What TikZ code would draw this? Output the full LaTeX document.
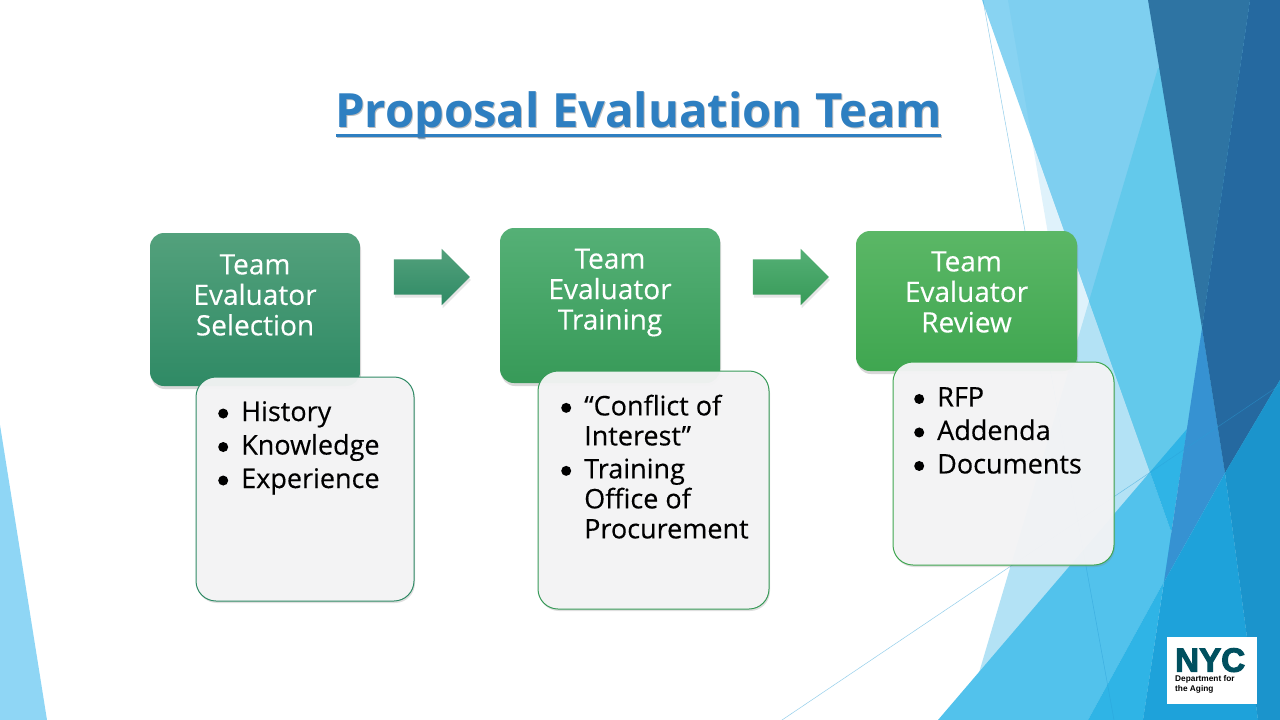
\documentclass[tikz,border=0pt]{standalone}
\usepackage{fontspec}
\setmainfont{Open Sans}
\newfontfamily\bodyfont[FakeBold=0.3]{Open Sans}
\newfontfamily\logofont{Liberation Sans}
\newfontfamily\logoheavy[FakeBold=3,UprightFont=* Bold]{Liberation Sans}
\usetikzlibrary{shadows,shapes.arrows}

\definecolor{titleblue}{HTML}{2E7FC1}
\definecolor{nycteal}{HTML}{00505F}
\definecolor{cardgray}{HTML}{F5F5F6}
\definecolor{sidelight}{HTML}{8FD6F5}
\definecolor{facetpale}{HTML}{DFF2FB}
\definecolor{facetsoft}{HTML}{B3E2F5}
\definecolor{facetsky}{HTML}{88D3F2}
\definecolor{facetskyb}{HTML}{7ECFF0}
\definecolor{facetmid}{HTML}{63C9EB}
\definecolor{facetlow}{HTML}{52C2EC}
\definecolor{facetcyan}{HTML}{2FB4E6}
\definecolor{facetroyal}{HTML}{3692D2}
\definecolor{facetsteel}{HTML}{2E74A3}
\definecolor{facetdark}{HTML}{2569A0}
\definecolor{facetdeep}{HTML}{1EA2DA}
\definecolor{facetdeepb}{HTML}{1B94CC}
\definecolor{hairline}{HTML}{2A9FD8}
\definecolor{greenAtop}{HTML}{53A17C}
\definecolor{greenAbot}{HTML}{2F8A65}
\definecolor{greenBtop}{HTML}{55B076}
\definecolor{greenBbot}{HTML}{379A58}
\definecolor{greenCtop}{HTML}{5BB766}
\definecolor{greenCbot}{HTML}{3FA650}

\tikzset{
	stepbox/.style={rounded corners=14pt,draw=none,inner sep=0pt,
		drop shadow={shadow xshift=1pt,shadow yshift=-3pt,opacity=0.3}},
	steptext/.style={text=white,align=center,inner sep=0pt,font=\bodyfont\fontsize{28}{30.5}\selectfont},
	listbox/.style={rounded corners=20pt,draw=#1,line width=1pt,fill=cardgray,fill opacity=0.95,
		inner sep=0pt,drop shadow={shadow xshift=1pt,shadow yshift=-2pt,opacity=0.25}},
	listtext/.style={anchor=north west,inner sep=0pt,align=left,text=black,
		font=\bodyfont\fontsize{27}{33.5}\selectfont},
	nextarrow/.style={single arrow,draw=none,inner xsep=0pt,inner ysep=17.5pt,minimum width=56pt,minimum height=76pt,
		single arrow head extend=10.5pt,single arrow tip angle=90,
		drop shadow={shadow xshift=1pt,shadow yshift=-3pt,opacity=0.2}},
}
\newcommand{\bul}{\makebox[23pt][l]{\smash{\tikz[baseline=-7.5pt]\fill[black] (0,0) circle (5pt);}}}

\begin{document}
\begin{tikzpicture}[x=1pt,y=-1pt]
	\useasboundingbox (0,0) rectangle (1280,720);
	\fill[white] (0,0) rectangle (1280,720);

	% facets, back to front
	\fill[sidelight] (0,425) -- (47,720) -- (0,720) -- cycle;
	\fill[facetpale] (1008,0) -- (1085,450) -- (1150,450) -- (1150,0) -- cycle;
	\fill[facetsoft] (1158,68) -- (965,720) -- (1280,720) -- (1280,68) -- cycle;
	\fill[facetsky] (982,0) -- (1150,472) -- (1280,472) -- (1280,0) -- cycle;
	\fill[facetskyb] (1008,0) -- (1032,140) -- (1150,472) -- (1280,472) -- (1280,0) -- cycle;
	\fill[facetmid] (1158,68) -- (1089,301) -- (1150,472) -- (1280,472) -- (1280,68) -- cycle;
	\fill[facetlow] (938,720) -- (1150,472) -- (1179,554) -- (1088,720) -- cycle;
	\fill[facetcyan] (1150,472) -- (1187,429) -- (1143,720) -- (1088,720) -- (1179,554) -- cycle;
	\fill[facetroyal] (1202,328) -- (1225,473) -- (1164,582) -- cycle;
	\fill[facetsteel] (1148,0) -- (1250,0) -- (1202,328) -- cycle;
	\fill[facetdark] (1250,0) -- (1280,0) -- (1280,380) -- (1225,473) -- (1202,328) -- cycle;
	\fill[facetdeep] (1225,473) -- (1164,582) -- (1143,720) -- (1258,720) -- cycle;
	\fill[facetdeepb] (1225,473) -- (1280,380) -- (1280,720) -- (1258,720) -- cycle;
	\draw[hairline,opacity=0.5,line width=0.5pt] (983,0) -- (1114,720);
	\draw[hairline,opacity=0.5,line width=0.5pt] (782,720) -- (1280,385);

	% title
	\node[text=gray,opacity=0.5,font=\fontsize{47.2}{52}\bfseries\selectfont,inner sep=0pt] (titleshade) at (639.5,116.5) {Proposal Evaluation Team};
	\node[text=titleblue,font=\fontsize{47.2}{52}\bfseries\selectfont,inner sep=0pt] (title) at (638.5,115.5) {Proposal Evaluation Team};
	\draw[gray,opacity=0.5,line width=3pt] (337,136.5) -- (942,136.5);
	\draw[titleblue,line width=3pt] (336,135) -- (941,135);

	% green steps
	\node[stepbox,minimum width=210pt,minimum height=153pt,top color=greenAtop,bottom color=greenAbot] (selection) at (255,309.5) {};
	\node[stepbox,minimum width=220pt,minimum height=155pt,top color=greenBtop,bottom color=greenBbot] (training) at (610,305.5) {};
	\node[stepbox,minimum width=221pt,minimum height=140pt,top color=greenCtop,bottom color=greenCbot] (review) at (966.5,301) {};
	\node[steptext] (selectiontext) at (255,295) {Team\\Evaluator\\Selection};
	\node[steptext] (trainingtext) at (610,292.5) {Team\\Evaluator\\Training};
	\node[steptext] (reviewtext) at (966.5,292) {Team\\Evaluator\\Review};

	% arrows
	\node[nextarrow,top color=greenAtop,bottom color=greenAbot,shading angle=0] (arrowone) at (423,277) {};
	\node[nextarrow,top color=greenBtop,bottom color=greenBbot,shading angle=0] (arrowtwo) at (782,277) {};

	% white cards
	\node[listbox=greenAbot,minimum width=218pt,minimum height=224pt] (selectioncard) at (305,489) {};
	\node[listbox=greenBbot,minimum width=231pt,minimum height=238pt] (trainingcard) at (653.5,490) {};
	\node[listbox=greenCbot,minimum width=221pt,minimum height=203pt] (reviewcard) at (1003.5,463.5) {};
	\node[listtext] (selectionlist) at (218,401) {\bul History\\\bul Knowledge\\\bul Experience};
	\node[listtext,font=\bodyfont\fontsize{27}{30}\selectfont] (traininglist) at (561,394.5) {\bul “Conflict of\\\hspace*{23pt}Interest”\\[3pt]\bul Training\\\hspace*{23pt}Office of\\\hspace*{23pt}Procurement};
	\node[listtext] (reviewlist) at (914,387) {\bul RFP\\\bul Addenda\\\bul Documents};

	% logo
	\node[fill=white,minimum width=90pt,minimum height=67pt,inner sep=0pt] (logo) at (1212,670.5) {};
	\node[text=nycteal,inner sep=0pt,anchor=north west,font=\logoheavy] (nyc) at (1175,648) {\resizebox{70pt}{23.5pt}{NYC}};
	\node[anchor=north west,inner sep=0pt,align=left,text=black,font=\logofont\bfseries\fontsize{8.3}{10}\selectfont] (agency) at (1175,675) {Department for\\the Aging};
\end{tikzpicture}
\end{document}
